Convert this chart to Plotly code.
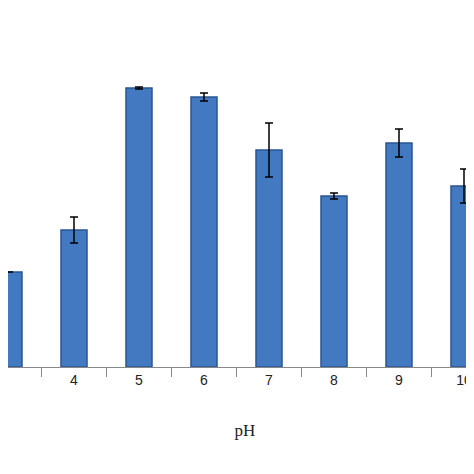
import plotly.graph_objects as go

# pH values and bar heights (arbitrary units)
ph = [3, 4, 5, 6, 7, 8, 9, 10]
height = [95, 137, 279, 270, 217, 171, 224, 181]
err = [0, 13, 1, 4, 27, 3, 14, 17]

fig = go.Figure(go.Bar(
    x=ph, y=height, width=0.40,
    marker=dict(color="#4279C0", line=dict(color="#2A5590", width=1.5)),
    error_y=dict(type="data", array=err, color="black", thickness=1.5, width=4),
))

fig.update_layout(
    width=474, height=474,
    margin=dict(l=0, r=0, t=0, b=115),
    plot_bgcolor="white", paper_bgcolor="white",
    showlegend=False,
    xaxis=dict(
        range=[4 - 66 / 65, 4 + 408 / 65],
        tickvals=ph, ticks="", showgrid=False,
        showline=True, linecolor="#888", linewidth=1,
        tickfont=dict(family="Liberation Sans", size=14, color="#222"),
        minor=dict(tick0=0.5, dtick=1, ticks="outside", ticklen=9,
                   tickcolor="#888", showgrid=False),
        title=dict(text="pH", standoff=37,
                   font=dict(family="Liberation Serif", size=17, color="#222")),
    ),
    yaxis=dict(range=[0, 359], visible=False),
)

fig.write_html("out.html")
